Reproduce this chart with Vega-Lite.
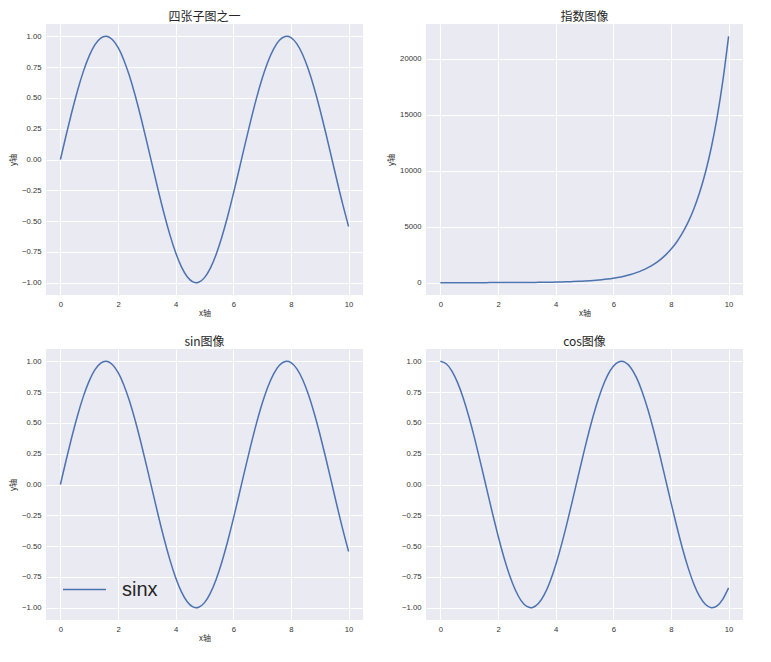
{
  "$schema": "https://vega.github.io/schema/vega-lite/v6.json",
  "background": "white",
  "padding": {"left": 9, "top": 11, "right": 5, "bottom": 5},
  "datasets": {
    "f": [
      {"x": 0.0, "sin": 0.0, "cos": 1.0, "exp": 1.0},
      {"x": 0.2, "sin": 0.1987, "cos": 0.9801, "exp": 1.2214},
      {"x": 0.4, "sin": 0.3894, "cos": 0.9211, "exp": 1.4918},
      {"x": 0.6, "sin": 0.5646, "cos": 0.8253, "exp": 1.8221},
      {"x": 0.8, "sin": 0.7174, "cos": 0.6967, "exp": 2.2255},
      {"x": 1.0, "sin": 0.8415, "cos": 0.5403, "exp": 2.7183},
      {"x": 1.2, "sin": 0.932, "cos": 0.3624, "exp": 3.3201},
      {"x": 1.4, "sin": 0.9854, "cos": 0.17, "exp": 4.0552},
      {"x": 1.6, "sin": 0.9996, "cos": -0.0292, "exp": 4.953},
      {"x": 1.8, "sin": 0.9738, "cos": -0.2272, "exp": 6.0496},
      {"x": 2.0, "sin": 0.9093, "cos": -0.4161, "exp": 7.3891},
      {"x": 2.2, "sin": 0.8085, "cos": -0.5885, "exp": 9.025},
      {"x": 2.4, "sin": 0.6755, "cos": -0.7374, "exp": 11.023},
      {"x": 2.6, "sin": 0.5155, "cos": -0.8569, "exp": 13.464},
      {"x": 2.8, "sin": 0.335, "cos": -0.9422, "exp": 16.445},
      {"x": 3.0, "sin": 0.1411, "cos": -0.99, "exp": 20.086},
      {"x": 3.2, "sin": -0.0584, "cos": -0.9983, "exp": 24.533},
      {"x": 3.4, "sin": -0.2555, "cos": -0.9668, "exp": 29.964},
      {"x": 3.6, "sin": -0.4425, "cos": -0.8968, "exp": 36.598},
      {"x": 3.8, "sin": -0.6119, "cos": -0.791, "exp": 44.701},
      {"x": 4.0, "sin": -0.7568, "cos": -0.6536, "exp": 54.598},
      {"x": 4.2, "sin": -0.8716, "cos": -0.4903, "exp": 66.686},
      {"x": 4.4, "sin": -0.9516, "cos": -0.3073, "exp": 81.451},
      {"x": 4.6, "sin": -0.9937, "cos": -0.1122, "exp": 99.484},
      {"x": 4.8, "sin": -0.9962, "cos": 0.0875, "exp": 121.51},
      {"x": 5.0, "sin": -0.9589, "cos": 0.2837, "exp": 148.41},
      {"x": 5.2, "sin": -0.8835, "cos": 0.4685, "exp": 181.27},
      {"x": 5.4, "sin": -0.7728, "cos": 0.6347, "exp": 221.41},
      {"x": 5.6, "sin": -0.6313, "cos": 0.7756, "exp": 270.43},
      {"x": 5.8, "sin": -0.4646, "cos": 0.8855, "exp": 330.3},
      {"x": 6.0, "sin": -0.2794, "cos": 0.9602, "exp": 403.43},
      {"x": 6.2, "sin": -0.0831, "cos": 0.9965, "exp": 492.75},
      {"x": 6.4, "sin": 0.1165, "cos": 0.9932, "exp": 601.85},
      {"x": 6.6, "sin": 0.3115, "cos": 0.9502, "exp": 735.1},
      {"x": 6.8, "sin": 0.4941, "cos": 0.8694, "exp": 897.85},
      {"x": 7.0, "sin": 0.657, "cos": 0.7539, "exp": 1096.6},
      {"x": 7.2, "sin": 0.7937, "cos": 0.6084, "exp": 1339.4},
      {"x": 7.4, "sin": 0.8987, "cos": 0.4385, "exp": 1636.0},
      {"x": 7.6, "sin": 0.9679, "cos": 0.2513, "exp": 1998.2},
      {"x": 7.8, "sin": 0.9985, "cos": 0.054, "exp": 2440.6},
      {"x": 8.0, "sin": 0.9894, "cos": -0.1455, "exp": 2981.0},
      {"x": 8.2, "sin": 0.9407, "cos": -0.3392, "exp": 3641.0},
      {"x": 8.4, "sin": 0.8546, "cos": -0.5193, "exp": 4447.1},
      {"x": 8.6, "sin": 0.7344, "cos": -0.6787, "exp": 5431.7},
      {"x": 8.8, "sin": 0.5849, "cos": -0.8111, "exp": 6634.2},
      {"x": 9.0, "sin": 0.4121, "cos": -0.9111, "exp": 8103.1},
      {"x": 9.2, "sin": 0.2229, "cos": -0.9748, "exp": 9897.1},
      {"x": 9.4, "sin": 0.0248, "cos": -0.9997, "exp": 12088},
      {"x": 9.6, "sin": -0.1743, "cos": -0.9847, "exp": 14765},
      {"x": 9.8, "sin": -0.3665, "cos": -0.9304, "exp": 18034},
      {"x": 10.0, "sin": -0.544, "cos": -0.8391, "exp": 22026}
    ]
  },
  "data": {"name": "f"},
  "columns": 2,
  "spacing": {"row": 54, "column": 63},
  "bounds": "flush",
  "concat": [
    {
      "width": 317, "height": 271,
      "title": {"text": "四张子图之一", "offset": 0},
      "mark": {"type": "line", "color": "#4C72B0", "strokeWidth": 1.5, "interpolate": "natural"},
      "encoding": {
        "x": {"field": "x", "type": "quantitative", "scale": {"domain": [-0.5, 10.5], "nice": false, "zero": false}, "axis": {"values": [0, 2, 4, 6, 8, 10], "title": "x轴"}},
        "y": {"field": "sin", "type": "quantitative", "scale": {"domain": [-1.1, 1.1], "nice": false, "zero": false}, "axis": {"values": [-1, -0.75, -0.5, -0.25, 0, 0.25, 0.5, 0.75, 1], "format": ".2f", "title": "y轴"}}
      }
    },
    {
      "width": 317, "height": 271,
      "title": {"text": "指数图像", "offset": 0},
      "mark": {"type": "line", "color": "#4C72B0", "strokeWidth": 1.5, "interpolate": "natural"},
      "encoding": {
        "x": {"field": "x", "type": "quantitative", "scale": {"domain": [-0.5, 10.5], "nice": false, "zero": false}, "axis": {"values": [0, 2, 4, 6, 8, 10], "title": "x轴"}},
        "y": {"field": "exp", "type": "quantitative", "scale": {"domain": [-1101, 23127], "nice": false, "zero": false}, "axis": {"values": [0, 5000, 10000, 15000, 20000], "format": "d", "title": "y轴"}}
      }
    },
    {
      "width": 317, "height": 271,
      "title": {"text": "sin图像", "offset": 0},
      "mark": {"type": "line", "strokeWidth": 1.5, "interpolate": "natural"},
      "encoding": {
        "x": {"field": "x", "type": "quantitative", "scale": {"domain": [-0.5, 10.5], "nice": false, "zero": false}, "axis": {"values": [0, 2, 4, 6, 8, 10], "title": "x轴"}},
        "y": {"field": "sin", "type": "quantitative", "scale": {"domain": [-1.1, 1.1], "nice": false, "zero": false}, "axis": {"values": [-1, -0.75, -0.5, -0.25, 0, 0.25, 0.5, 0.75, 1], "format": ".2f", "title": "y轴"}},
        "color": {
          "datum": "sinx",
          "type": "nominal",
          "scale": {"range": ["#4C72B0"]},
          "legend": {
            "title": null,
            "orient": "bottom-left",
            "offset": 20,
            "padding": 0,
            "symbolOffset": -4,
            "symbolType": "stroke",
            "symbolSize": 1850,
            "symbolStrokeWidth": 1.5,
            "labelFontSize": 20,
            "labelFont": "Liberation Sans",
            "labelColor": "#262626",
            "labelOffset": 15
          }
        }
      }
    },
    {
      "width": 317, "height": 271,
      "title": {"text": "cos图像", "offset": 0},
      "mark": {"type": "line", "color": "#4C72B0", "strokeWidth": 1.5, "interpolate": "natural"},
      "encoding": {
        "x": {"field": "x", "type": "quantitative", "scale": {"domain": [-0.5, 10.5], "nice": false, "zero": false}, "axis": {"values": [0, 2, 4, 6, 8, 10], "title": null}},
        "y": {"field": "cos", "type": "quantitative", "scale": {"domain": [-1.1, 1.1], "nice": false, "zero": false}, "axis": {"values": [-1, -0.75, -0.5, -0.25, 0, 0.25, 0.5, 0.75, 1], "format": ".2f", "title": null}}
      }
    }
  ],
  "resolve": {"scale": {"color": "independent"}, "legend": {"color": "independent"}},
  "config": {
    "view": {"fill": "#EAEAF2", "stroke": null},
    "axis": {
      "domain": false,
      "ticks": false,
      "grid": true,
      "gridColor": "white",
      "gridWidth": 1,
      "gridOpacity": 1,
      "labelFont": "Liberation Sans",
      "labelFontSize": 7.7,
      "labelColor": "#333333",
      "labelPadding": 5,
      "titleFont": "Noto Sans CJK SC",
      "titleFontSize": 8,
      "titleFontWeight": "normal",
      "titleColor": "#333333"
    },
    "axisX": {"titlePadding": 2},
    "axisY": {"titlePadding": 4},
    "title": {"font": "Noto Sans CJK SC", "fontSize": 12, "fontWeight": "normal", "color": "#262626"}
  }
}
